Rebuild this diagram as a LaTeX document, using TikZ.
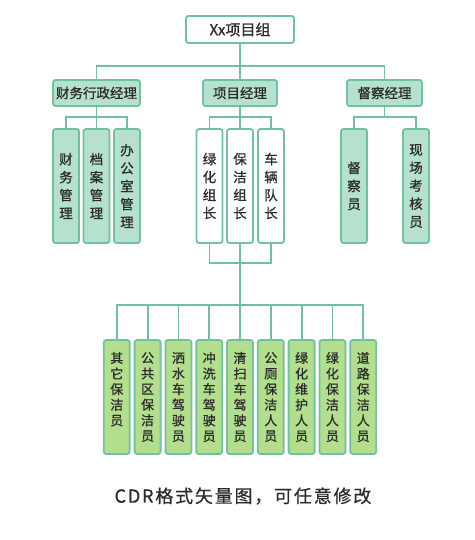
\documentclass[tikz,border=0pt]{standalone}
\usepackage{fontspec}
\setmainfont[FakeBold=0.8]{Noto Sans CJK SC}
\newfontfamily\captionfont[LetterSpace=10,FakeBold=0.6]{Noto Sans CJK SC}
\usetikzlibrary{positioning}

\definecolor{lineteal}{HTML}{70C1A0}
\definecolor{mintfill}{HTML}{B6E1CE}
\definecolor{leaffill}{HTML}{B3DE8D}
\definecolor{inkgray}{HTML}{2B2B2B}

\tikzset{
  orgbox/.style={draw=lineteal, line width=1.8pt, rounded corners=2.5pt,
    inner sep=0pt, align=center, text=inkgray},
  headbox/.style={orgbox, fill=mintfill, minimum height=26pt,
    font=\fontsize{13.5}{16}\selectfont},
  tallbox/.style={orgbox, minimum width=26pt, minimum height=114pt,
    font=\fontsize{13.5}{18}\selectfont},
  leafbox/.style={orgbox, fill=leaffill, minimum width=26pt, minimum height=114pt,
    font=\fontsize{13}{15.6}\selectfont},
  link/.style={draw=lineteal, line width=1.8pt},
}

\begin{document}
\begin{tikzpicture}[x=1pt, y=-1pt]
  \useasboundingbox (0,0) rectangle (474,540);

  % top and managers
  \node[orgbox, minimum width=108pt, minimum height=27pt,
        font=\fontsize{15}{18}\selectfont] (top) at (240,29.5) {Xx项目组};
  \node[headbox, minimum width=87pt] (m1) at (96.5,93) {财务行政经理};
  \node[headbox, minimum width=74pt] (m2) at (240,93) {项目经理};
  \node[headbox, minimum width=75pt] (m3) at (384.5,93) {督察经理};

  % second row
  \node[tallbox, fill=mintfill] (c11) at (66,186) {财\\务\\管\\理};
  \node[tallbox, fill=mintfill] (c12) at (96.5,186) {档\\案\\管\\理};
  \node[tallbox, fill=mintfill] (c13) at (127,186) {办\\公\\室\\管\\理};
  \node[tallbox, fill=white] (c21) at (209.5,186) {绿\\化\\组\\长};
  \node[tallbox, fill=white] (c22) at (240,186) {保\\洁\\组\\长};
  \node[tallbox, fill=white] (c23) at (271,186) {车\\辆\\队\\长};
  \node[tallbox, fill=mintfill] (c31) at (354,186) {督\\察\\员};
  \node[tallbox, fill=mintfill] (c32) at (416,186) {现\\场\\考\\核\\员};

  % bottom row
  \foreach \idx/\txt in {1/{其\\它\\保\\洁\\员\\\phantom{员}}, 2/{公\\共\\区\\保\\洁\\员},
      3/{洒\\水\\车\\驾\\驶\\员}, 4/{冲\\洗\\车\\驾\\驶\\员}, 5/{清\\扫\\车\\驾\\驶\\员},
      6/{公\\厕\\保\\洁\\人\\员}, 7/{绿\\化\\维\\护\\人\\员}, 8/{绿\\化\\保\\洁\\人\\员},
      9/{道\\路\\保\\洁\\人\\员}}
    \node[leafbox] (b\idx) at ({116.8+30.8*(\idx-1)},397) {\txt};

  % junctions
  \coordinate (bus0) at (240,66);
  \coordinate (row1) at (0,117);
  \coordinate (row2) at (0,263);
  \coordinate (bus3) at (240,305);
  \coordinate (j1) at (m1.south |- row1);
  \coordinate (j2) at (m2.south |- row1);
  \coordinate (j3) at (m3.south |- row1);
  \coordinate (j4) at (c22.south |- row2);

  % connectors
  \draw[link] (top.south) -- (m2.north);
  \draw[link] (m1.north) |- (bus0) -| (m3.north);
  \draw[link] (m1.south) -- (j1);
  \draw[link] (c11.north) |- (j1) -| (c13.north);
  \draw[link] (j1) -- (c12.north);
  \draw[link] (m2.south) -- (j2);
  \draw[link] (c21.north) |- (j2) -| (c23.north);
  \draw[link] (j2) -- (c22.north);
  \draw[link] (m3.south) -- (j3);
  \draw[link] (c31.north) |- (j3) -| (c32.north);
  \draw[link] (c21.south) |- (j4) -| (c23.south);
  \draw[link] (c22.south) -- (bus3);
  \draw[link] (b1.north) |- (bus3) -| (b9.north);
  \foreach \idx in {2,...,8}
    \draw[link] (b\idx.north) -- (b\idx.north |- bus3);

  \node[font=\captionfont\fontsize{18}{20}\selectfont, text=inkgray] (note) at (243,496)
    {CDR格式矢量图，可任意修改};
\end{tikzpicture}
\end{document}
